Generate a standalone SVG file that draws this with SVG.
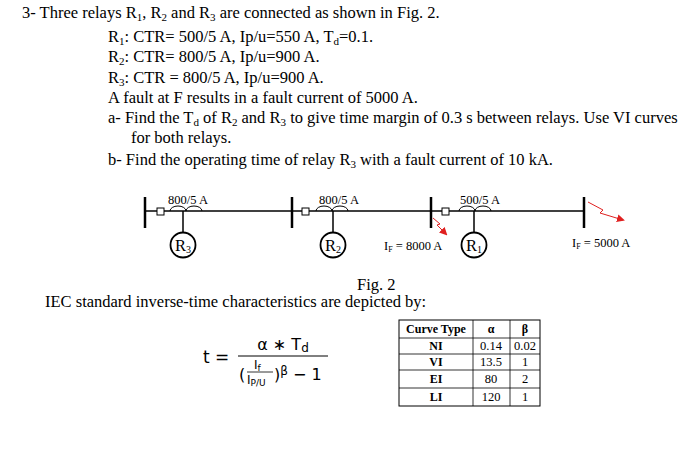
<svg xmlns="http://www.w3.org/2000/svg" width="700" height="471" viewBox="0 0 700 471">
<style>
.t{font-family:"Liberation Serif",serif;font-size:16.5px;fill:#000}
.s{font-family:"Liberation Serif",serif;font-size:12.5px;fill:#000}
.b{font-family:"Liberation Serif",serif;font-size:12px;font-weight:bold;fill:#000}
.f{font-family:"DejaVu Sans",sans-serif;fill:#000}
.ln{stroke:#000;stroke-width:1.5;fill:none}
.bus{stroke:#000;stroke-width:2.5}
.ct{stroke:#000;stroke-width:1;fill:none}
.red{stroke:#e02020;stroke-width:1;fill:none}
</style>
<defs>
<marker id="ar" markerWidth="8" markerHeight="8" refX="6" refY="4" orient="auto" markerUnits="userSpaceOnUse"><path d="M0,0 L8,4 L0,8z" fill="#e02020"/></marker>
</defs>
<rect width="700" height="471" fill="#fff"/>
<g id="text">
<text class="t" x="22" y="18">3-  Three relays R<tspan font-size="11" dy="3">1</tspan><tspan dy="-3">, R</tspan><tspan font-size="11" dy="3">2</tspan><tspan dy="-3"> and R</tspan><tspan font-size="11" dy="3">3</tspan><tspan dy="-3"> are connected as shown in Fig. 2.</tspan></text>
<text class="t" x="108" y="42">R<tspan font-size="11" dy="3">1</tspan><tspan dy="-3">: CTR= 500/5 A, Ip/u=550 A, T</tspan><tspan font-size="11" dy="3">d</tspan><tspan dy="-3">=0.1.</tspan></text>
<text class="t" x="108" y="62">R<tspan font-size="11" dy="3">2</tspan><tspan dy="-3">: CTR= 800/5 A, Ip/u=900 A.</tspan></text>
<text class="t" x="108" y="83">R<tspan font-size="11" dy="3">3</tspan><tspan dy="-3">: CTR = 800/5 A, Ip/u=900 A.</tspan></text>
<text class="t" x="108" y="103">A fault at F results in a fault current of 5000 A.</text>
<text class="t" x="108" y="123">a-  Find the T<tspan font-size="11" dy="3">d</tspan><tspan dy="-3"> of R</tspan><tspan font-size="11" dy="3">2</tspan><tspan dy="-3"> and R</tspan><tspan font-size="11" dy="3">3</tspan><tspan dy="-3"> to give time margin of 0.3 s between relays. Use VI curves</tspan></text>
<text class="t" x="131" y="143">for both relays.</text>
<text class="t" x="108" y="165">b-  Find the operating time of relay R<tspan font-size="11" dy="3">3</tspan><tspan dy="-3"> with a fault current of 10 kA.</tspan></text>
<text class="t" x="357" y="290">Fig. 2</text>
<text class="t" x="45" y="307">IEC standard inverse-time characteristics are depicted by:</text>
</g>
<g id="line">
<line class="ln" x1="145" y1="211" x2="584" y2="211"/>
<line class="bus" x1="145" y1="197" x2="145" y2="228"/>
<line class="bus" x1="292" y1="197" x2="292" y2="228"/>
<line class="bus" x1="431" y1="197" x2="431" y2="228"/>
<line class="bus" x1="584" y1="197" x2="584" y2="228"/>
</g>
<g id="bay3">
<rect x="157" y="208" width="7" height="7" fill="#fff" stroke="#000"/>
<path class="ct" d="M170,211 a8,5 0 0 1 16,0 a8,5 0 0 1 16,0"/>
<text class="s" x="188" y="204" text-anchor="middle">800/5 A</text>
<line class="ln" x1="183" y1="211" x2="183" y2="232"/>
<circle cx="183" cy="245" r="12.5" fill="#fff" stroke="#000" stroke-width="1.8"/>
<text class="t" x="183" y="251" text-anchor="middle" font-size="16">R<tspan font-size="10" dy="2">3</tspan></text>
</g>
<g id="bay2">
<rect x="302" y="208" width="7" height="7" fill="#fff" stroke="#000"/>
<path class="ct" d="M316,211 a8,5 0 0 1 16,0 a8,5 0 0 1 16,0"/>
<text class="s" x="339" y="204" text-anchor="middle">800/5 A</text>
<line class="ln" x1="333" y1="211" x2="333" y2="232"/>
<circle cx="333" cy="245" r="12.5" fill="#fff" stroke="#000" stroke-width="1.8"/>
<text class="t" x="333" y="251" text-anchor="middle" font-size="16">R<tspan font-size="10" dy="2">2</tspan></text>
</g>
<g id="bay1">
<rect x="442" y="208" width="7" height="7" fill="#fff" stroke="#000"/>
<path class="ct" d="M459,211 a8,5 0 0 1 16,0 a8,5 0 0 1 16,0"/>
<text class="s" x="480" y="204" text-anchor="middle">500/5 A</text>
<line class="ln" x1="474" y1="211" x2="474" y2="232"/>
<circle cx="474" cy="245" r="12.5" fill="#fff" stroke="#000" stroke-width="1.8"/>
<text class="t" x="474" y="251" text-anchor="middle" font-size="16">R<tspan font-size="10" dy="2">1</tspan></text>
<text class="s" x="384" y="250">I<tspan font-size="8" dy="2">F</tspan><tspan dy="-2"> = 8000 A</tspan></text>
</g>
<g id="faults">
<path class="red" d="M433,218 L440,224 L437,225 L446,234" marker-end="url(#ar)"/>
<path class="red" d="M588,202 L603,210 L600,213 L623,220" marker-end="url(#ar)"/>
<text class="s" x="572" y="247">I<tspan font-size="8" dy="2">F</tspan><tspan dy="-2"> = 5000 A</tspan></text>
</g>
<g id="formula">
<text class="f" x="203" y="363" font-size="17">t =</text>
<text class="f" x="283" y="350" font-size="16" text-anchor="middle">α ∗ T<tspan font-size="12" dy="2">d</tspan></text>
<line x1="238" y1="356" x2="328" y2="356" stroke="#000" stroke-width="1"/>
<text class="f" x="239" y="380" font-size="16">(</text>
<text class="f" x="254" y="369" font-size="12">I<tspan font-size="9" dy="2">f</tspan></text>
<line x1="247" y1="372" x2="273" y2="372" stroke="#000" stroke-width="0.8"/>
<text class="f" x="247" y="384" font-size="12">I<tspan font-size="9" dy="2">P/U</tspan></text>
<text class="f" x="274" y="380" font-size="16">)<tspan font-size="12" dy="-5">β</tspan><tspan dy="5"> − 1</tspan></text>
</g>
<g id="table">
<rect x="399" y="320" width="141" height="86" fill="#fff" stroke="#000"/>
<g stroke="#000" stroke-width="0.8">
<line x1="473" y1="320" x2="473" y2="406"/><line x1="510" y1="320" x2="510" y2="406"/>
<line x1="399" y1="338" x2="540" y2="338"/><line x1="399" y1="354" x2="540" y2="354"/>
<line x1="399" y1="370" x2="540" y2="370"/><line x1="399" y1="388" x2="540" y2="388"/>
</g>
<g text-anchor="middle">
<text class="b" x="436" y="333">Curve Type</text><text class="b" x="491" y="333">α</text><text class="b" x="525" y="333">β</text>
<text class="b" x="436" y="350">NI</text><text class="s" x="491" y="350">0.14</text><text class="s" x="525" y="350">0.02</text>
<text class="b" x="436" y="366">VI</text><text class="s" x="491" y="366">13.5</text><text class="s" x="525" y="366">1</text>
<text class="b" x="436" y="383">EI</text><text class="s" x="491" y="383">80</text><text class="s" x="525" y="383">2</text>
<text class="b" x="436" y="401">LI</text><text class="s" x="491" y="401">120</text><text class="s" x="525" y="401">1</text>
</g>
</g>
</svg>
